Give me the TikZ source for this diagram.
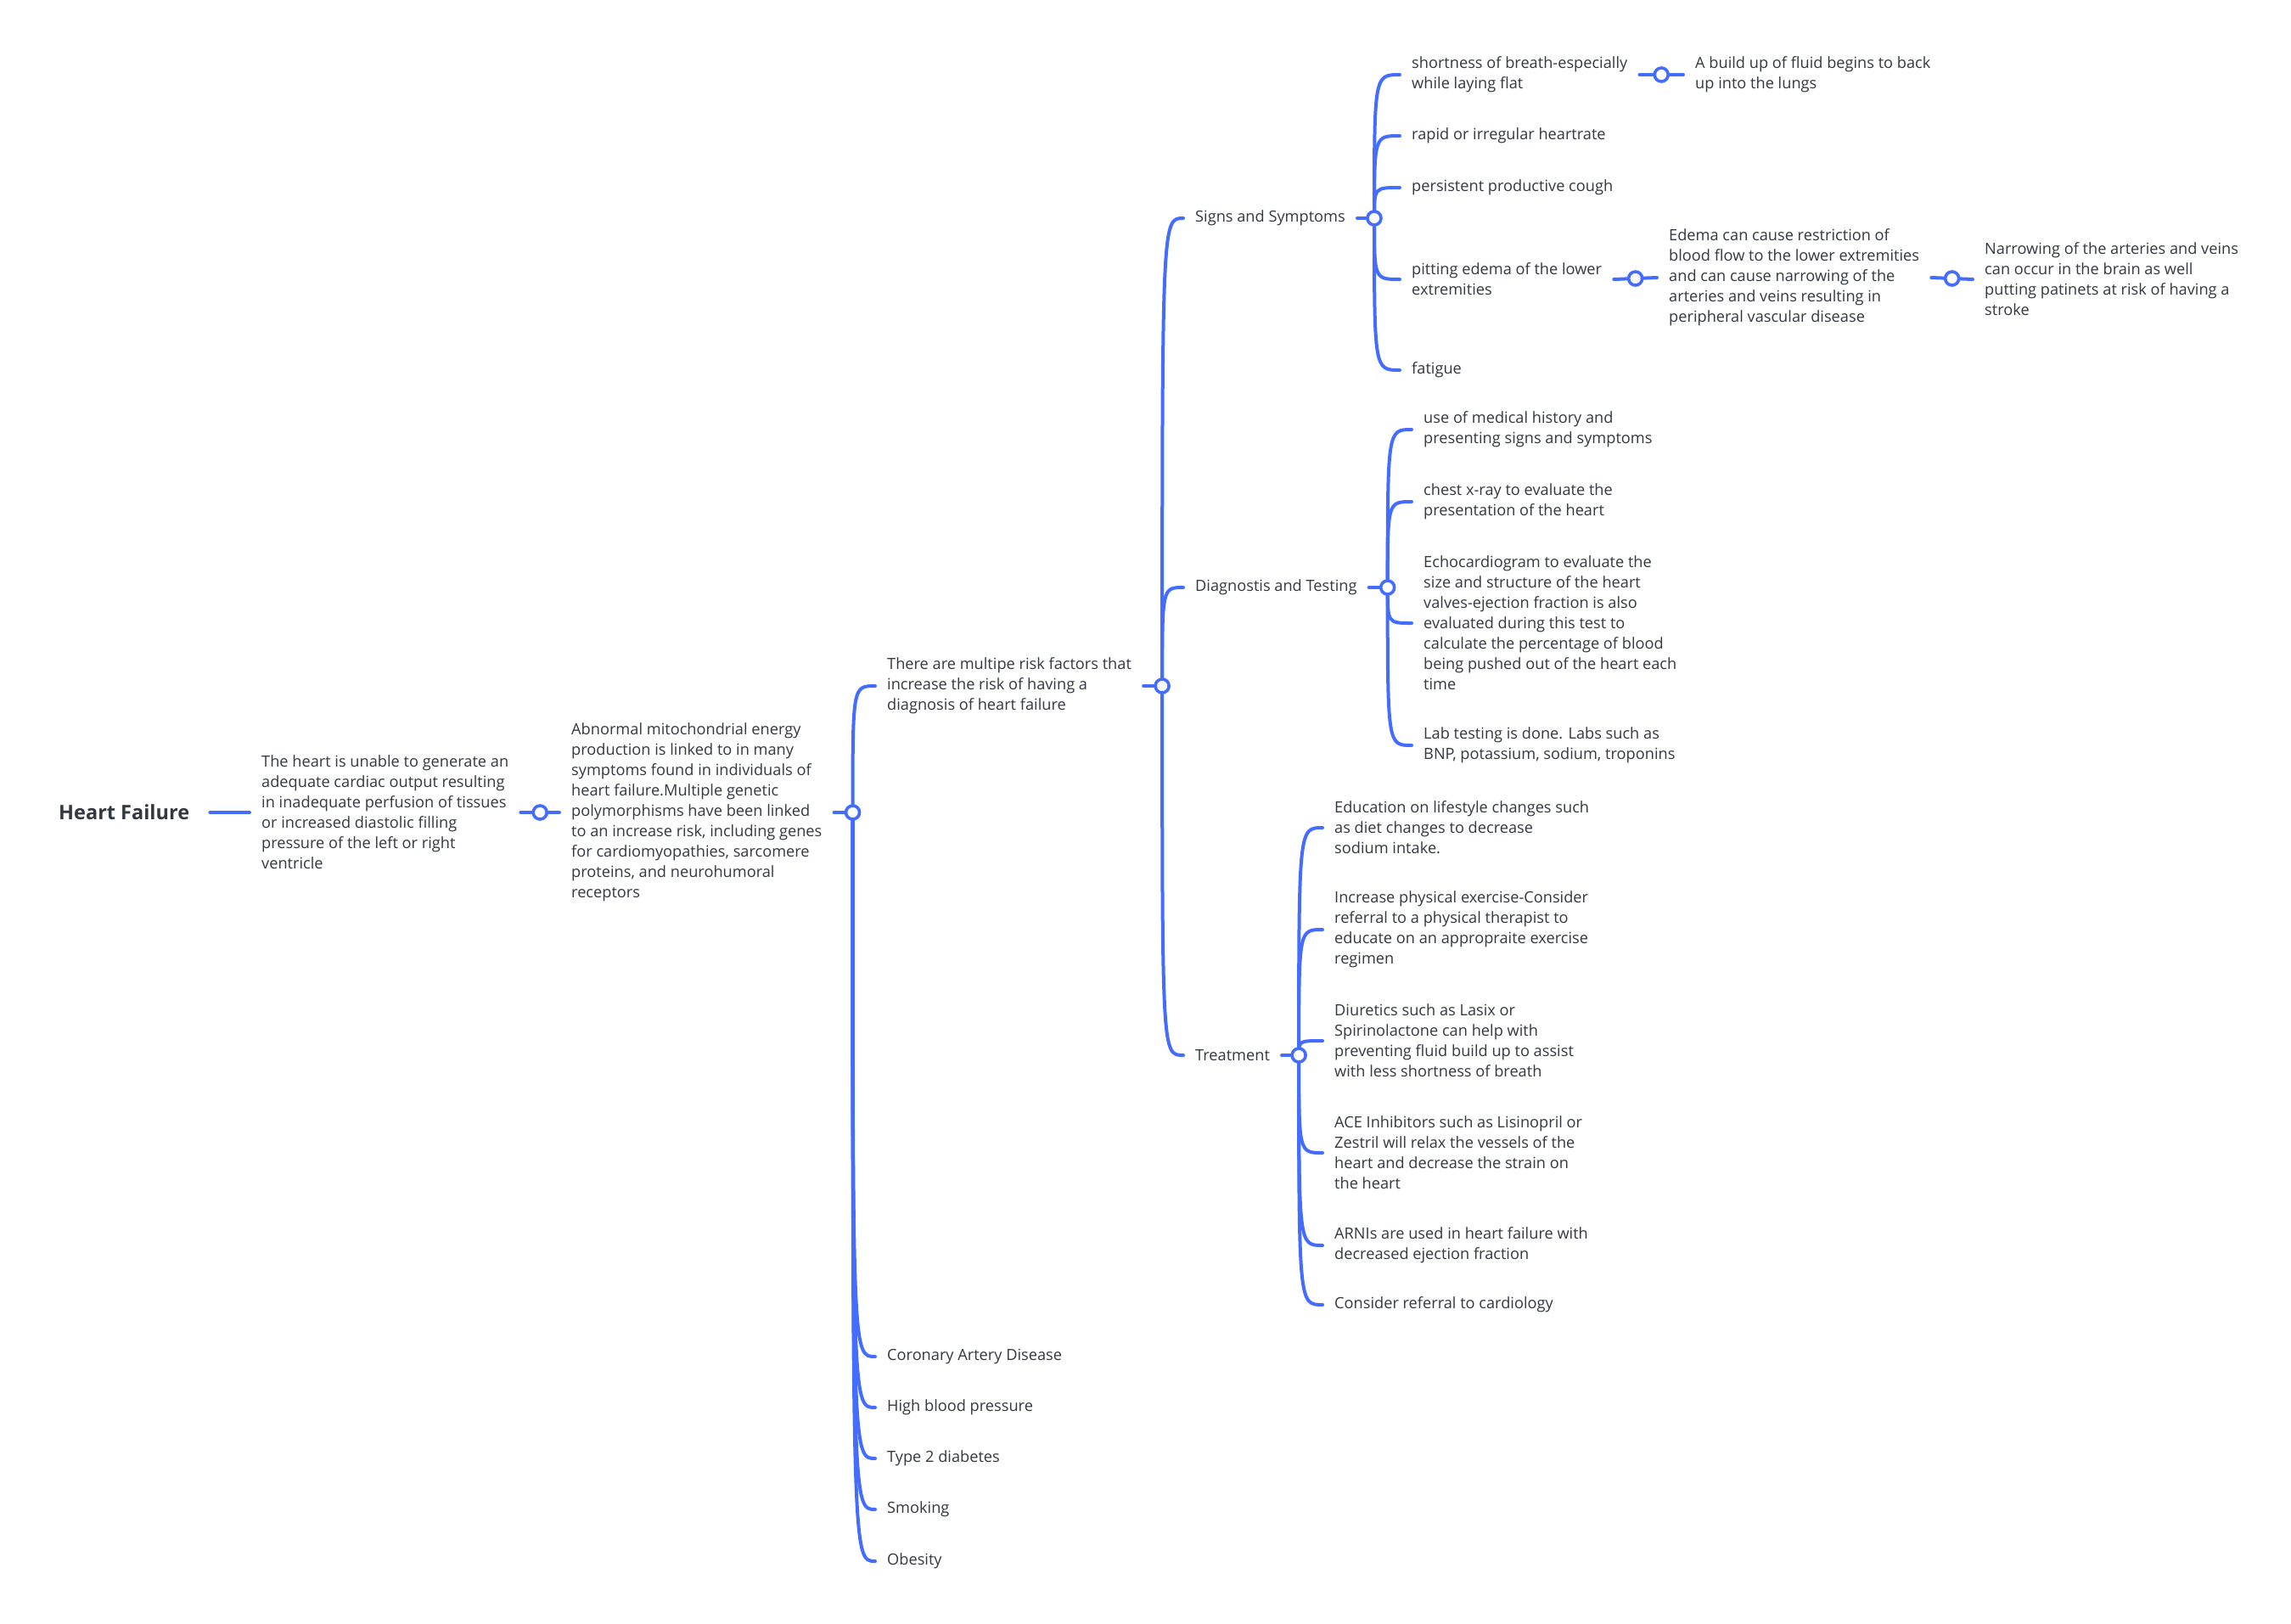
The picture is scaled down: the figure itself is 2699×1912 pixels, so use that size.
\documentclass[tikz,border=0pt]{standalone}
\usepackage{fontspec}
\setmainfont{Open Sans}
\usepackage{xcolor}
\usetikzlibrary{positioning}
\definecolor{MapBlue}{RGB}{68,108,255}
\definecolor{MapInk}{RGB}{52,56,64}

\begin{document}
\begin{tikzpicture}[x=1pt,y=-1pt,
  leaf/.style={anchor=west, align=left, inner sep=0pt, yshift=-2pt, text=MapInk, font=\fontsize{18.2}{24}\selectfont},
  stem/.style={MapBlue, line width=4pt, line cap=round},
  knob/.style={circle, draw=MapBlue, fill=white, line width=3.6pt, minimum size=16pt, inner sep=0pt}]
  \path[use as bounding box, fill=white] (0,0) rectangle (2699,1912);

  \node[leaf, font=\fontsize{23.5}{28}\selectfont\bfseries] (root) at (69,955) {Heart Failure};
  \node[leaf] (n1) at (308,955) {The heart is unable to generate an\\adequate cardiac output resulting\\in inadequate perfusion of tissues\\or increased diastolic filling\\pressure of the left or right\\ventricle};
  \node[leaf] (n2) at (673,955) {Abnormal mitochondrial energy\\production is linked to in many\\symptoms found in individuals of\\heart failure.Multiple genetic\\polymorphisms have been linked\\to an increase risk, including genes\\for cardiomyopathies, sarcomere\\proteins, and neurohumoral\\receptors};
  \node[leaf] (rA) at (1045,806) {There are multipe risk factors that\\increase the risk of having a\\diagnosis of heart failure};
  \foreach \y/\name/\txt in {1596/r1/Coronary Artery Disease, 1656/r2/High blood pressure,
      1716/r3/Type 2 diabetes, 1776/r4/Smoking, 1837/r5/Obesity}
    \node[leaf] (\name) at (1045,\y) {\txt};

  \node[leaf] (sig) at (1408,255) {Signs and Symptoms};
  \node[leaf] (dia) at (1408,690) {Diagnostis and Testing};
  \node[leaf] (tre) at (1408,1241) {Treatment};

  \node[leaf] (s1) at (1663,86) {shortness of breath-especially\\while laying flat};
  \node[leaf] (s2) at (1663,158) {rapid or irregular heartrate};
  \node[leaf] (s3) at (1663,219) {persistent productive cough};
  \node[leaf] (s4) at (1663,327) {pitting edema of the lower\\extremities};
  \node[leaf] (s5) at (1663,434) {fatigue};
  \node[leaf] (fluid) at (1997,86) {A build up of fluid begins to back\\up into the lungs};
  \node[leaf] (edema) at (1966,325) {Edema can cause restriction of\\blood flow to the lower extremities\\and can cause narrowing of the\\arteries and veins resulting in\\peripheral vascular disease};
  \node[leaf] (narrow) at (2338,327) {Narrowing of the arteries and veins\\can occur in the brain as well\\putting patinets at risk of having a\\stroke};

  \node[leaf] (d1) at (1677,504) {use of medical history and\\presenting signs and symptoms};
  \node[leaf] (d2) at (1677,589) {chest x-ray to evaluate the\\presentation of the heart};
  \node[leaf] (d3) at (1677,732) {Echocardiogram to evaluate the\\size and structure of the heart\\valves-ejection fraction is also\\evaluated during this test to\\calculate the percentage of blood\\being pushed out of the heart each\\time};
  \node[leaf] (d4) at (1677,876) {Lab testing is done. Labs such as\\BNP, potassium, sodium, troponins};

  \node[leaf] (t1) at (1572,973) {Education on lifestyle changes such\\as diet changes to decrease\\sodium intake.};
  \node[leaf] (t2) at (1572,1093) {Increase physical exercise-Consider\\referral to a physical therapist to\\educate on an appropraite exercise\\regimen};
  \node[leaf] (t3) at (1572,1224) {Diuretics such as Lasix or\\Spirinolactone can help with\\preventing fluid build up to assist\\with less shortness of breath};
  \node[leaf] (t4) at (1572,1356) {ACE Inhibitors such as Lisinopril or\\Zestril will relax the vessels of the\\heart and decrease the strain on\\the heart};
  \node[leaf] (t5) at (1572,1465) {ARNIs are used in heart failure with\\decreased ejection fraction};
  \node[leaf] (t6) at (1572,1535) {Consider referral to cardiology};

  \coordinate[right=36pt of n2.east] (kN2);
  \coordinate[right=36pt of rA.east] (kA);
  \coordinate[right=34pt of sig.east] (kSig);
  \coordinate[right=36pt of dia.east] (kDia);
  \coordinate[right=34pt of tre.east] (kTre);

  \draw[stem] ([xshift=24pt]root.east) -- ([xshift=-14pt]n1.west);
  \draw[stem] ([xshift=14pt]n1.east) -- coordinate[midway] (kN1) ([xshift=-14pt]n2.west);
  \draw[stem] ([xshift=14pt]s1.east) -- coordinate[midway] (kS1) ([xshift=-14pt]fluid.west);
  \draw[stem] ([xshift=14pt]s4.east) -- coordinate[midway] (kS4) ([xshift=-14pt]edema.west);
  \draw[stem] ([xshift=14pt]edema.east) -- coordinate[midway] (kEd) ([xshift=-14pt]narrow.west);

  \foreach \p/\k in {n2/kN2, rA/kA, sig/kSig, dia/kDia, tre/kTre}
    \draw[stem] ([xshift=14pt]\p.east) -- (\k);

  \foreach \k/\c in {kN2/rA, kN2/r1, kN2/r2, kN2/r3, kN2/r4, kN2/r5,
      kA/sig, kA/dia, kA/tre,
      kSig/s1, kSig/s2, kSig/s3, kSig/s4, kSig/s5,
      kDia/d1, kDia/d2, kDia/d3, kDia/d4,
      kTre/t1, kTre/t2, kTre/t3, kTre/t4, kTre/t5, kTre/t6}
    \draw[stem] (\k) .. controls (\k |- \c.west) and (\k |- \c.west) .. ([xshift=-14pt]\c.west);

  \foreach \k in {kN1, kN2, kA, kSig, kDia, kTre, kS1, kS4, kEd}
    \node[knob] at (\k) {};
\end{tikzpicture}
\end{document}
